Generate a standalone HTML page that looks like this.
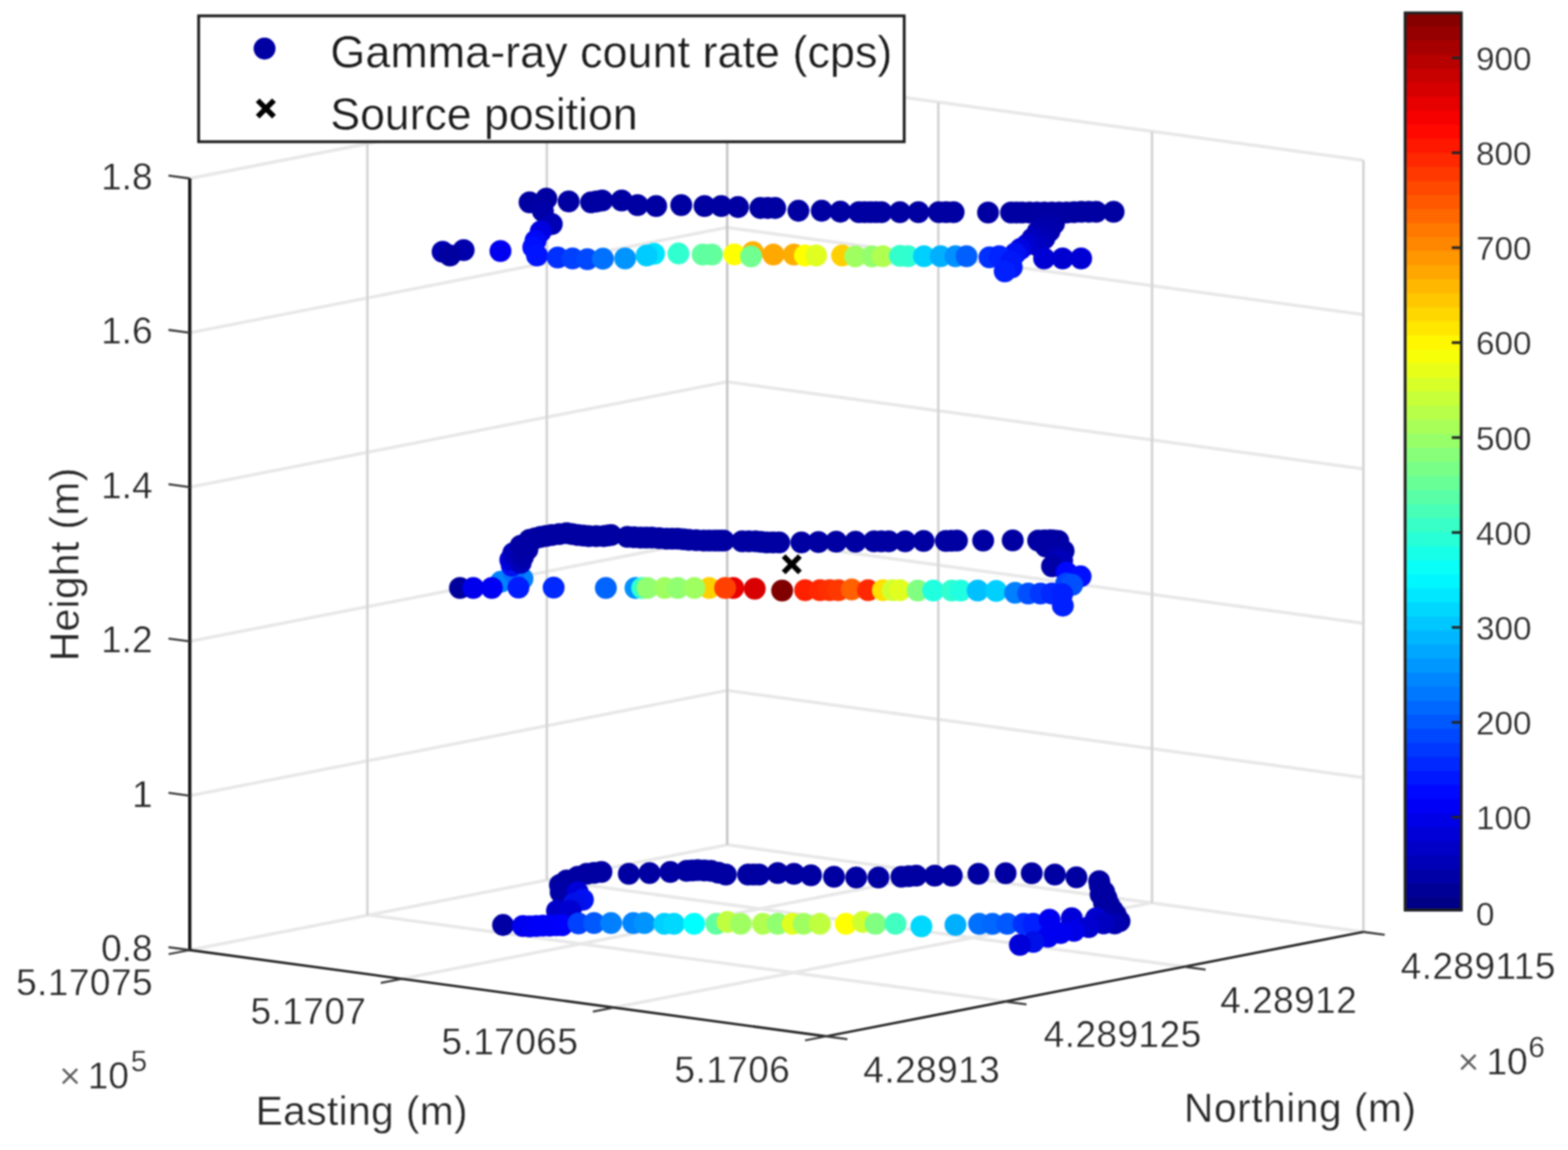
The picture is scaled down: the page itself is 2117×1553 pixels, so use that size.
<!DOCTYPE html>
<html lang="en">
<head>
<meta charset="utf-8">
<title>Gamma-ray count rate 3D scatter</title>
<style>
html,body{margin:0;padding:0;background:#fff;}
body{width:2117px;height:1553px;overflow:hidden;}
svg{display:block;filter:blur(1.3px);}
text{font-family:'Liberation Sans', sans-serif;stroke:#fff;stroke-width:0.45px;paint-order:fill stroke;}
</style>
</head>
<body>
<svg width="2117" height="1553" viewBox="0 0 2117 1553">
<rect x="-10" y="-10" width="2137" height="1573" fill="#ffffff"/>
<g id="grid" stroke-linecap="butt">
<line x1="256.2" y1="1283.0" x2="981.8" y2="1140.8" stroke="#e8e8e8" stroke-width="4.4" />
<line x1="981.8" y1="1140.8" x2="1840.8" y2="1258.5" stroke="#e8e8e8" stroke-width="4.4" />
<line x1="256.2" y1="1074.6" x2="981.8" y2="932.4" stroke="#e8e8e8" stroke-width="4.4" />
<line x1="981.8" y1="932.4" x2="1840.8" y2="1050.1" stroke="#e8e8e8" stroke-width="4.4" />
<line x1="256.2" y1="866.2" x2="981.8" y2="724.0" stroke="#e8e8e8" stroke-width="4.4" />
<line x1="981.8" y1="724.0" x2="1840.8" y2="841.7" stroke="#e8e8e8" stroke-width="4.4" />
<line x1="256.2" y1="657.8" x2="981.8" y2="515.6" stroke="#e8e8e8" stroke-width="4.4" />
<line x1="981.8" y1="515.6" x2="1840.8" y2="633.3" stroke="#e8e8e8" stroke-width="4.4" />
<line x1="256.2" y1="449.4" x2="981.8" y2="307.2" stroke="#e8e8e8" stroke-width="4.4" />
<line x1="981.8" y1="307.2" x2="1840.8" y2="424.9" stroke="#e8e8e8" stroke-width="4.4" />
<line x1="256.2" y1="241.0" x2="981.8" y2="98.8" stroke="#e8e8e8" stroke-width="4.4" />
<line x1="981.8" y1="98.8" x2="1840.8" y2="216.5" stroke="#e8e8e8" stroke-width="4.4" />
<line x1="542.6" y1="1321.8" x2="1268.1" y2="1180.0" stroke="#e8e8e8" stroke-width="4.4" />
<line x1="1357.2" y1="1352.5" x2="498.1" y2="1235.6" stroke="#e8e8e8" stroke-width="4.4" />
<line x1="829.0" y1="1360.7" x2="1554.5" y2="1219.3" stroke="#e8e8e8" stroke-width="4.4" />
<line x1="1599.0" y1="1305.5" x2="739.9" y2="1188.2" stroke="#e8e8e8" stroke-width="4.4" />
<line x1="496.0" y1="1236.0" x2="496.0" y2="194.0" stroke="#d4d4d4" stroke-width="3.4" />
<line x1="738.3" y1="1188.5" x2="738.3" y2="146.5" stroke="#d4d4d4" stroke-width="3.4" />
<line x1="981.8" y1="1140.8" x2="981.8" y2="98.8" stroke="#c6c6c6" stroke-width="3.4" />
<line x1="1266.8" y1="1179.9" x2="1266.8" y2="137.9" stroke="#d4d4d4" stroke-width="3.4" />
<line x1="1555.4" y1="1219.4" x2="1555.4" y2="177.4" stroke="#d4d4d4" stroke-width="3.4" />
<line x1="1840.8" y1="1258.5" x2="1840.8" y2="216.5" stroke="#d4d4d4" stroke-width="3.4" />
</g>
<g id="axes" stroke-linecap="butt">
<line x1="256.2" y1="241.0" x2="256.2" y2="1284.5" stroke="#141414" stroke-width="4.4" />
<line x1="256.2" y1="1283.0" x2="1115.4" y2="1399.5" stroke="#262626" stroke-width="3.3" />
<line x1="1115.4" y1="1399.5" x2="1840.8" y2="1258.5" stroke="#262626" stroke-width="3.3" />
<line x1="256.2" y1="1283.0" x2="227.5" y2="1279.1" stroke="#3a3a3a" stroke-width="2.8" />
<line x1="256.2" y1="1074.6" x2="227.5" y2="1070.7" stroke="#3a3a3a" stroke-width="2.8" />
<line x1="256.2" y1="866.2" x2="227.5" y2="862.3" stroke="#3a3a3a" stroke-width="2.8" />
<line x1="256.2" y1="657.8" x2="227.5" y2="653.9" stroke="#3a3a3a" stroke-width="2.8" />
<line x1="256.2" y1="449.4" x2="227.5" y2="445.5" stroke="#3a3a3a" stroke-width="2.8" />
<line x1="256.2" y1="241.0" x2="227.5" y2="237.1" stroke="#3a3a3a" stroke-width="2.8" />
<line x1="256.2" y1="1283.0" x2="227.7" y2="1288.5" stroke="#3a3a3a" stroke-width="2.8" />
<line x1="1115.4" y1="1399.5" x2="1144.1" y2="1403.4" stroke="#3a3a3a" stroke-width="2.8" />
<line x1="542.6" y1="1321.8" x2="514.1" y2="1327.4" stroke="#3a3a3a" stroke-width="2.8" />
<line x1="1357.2" y1="1352.5" x2="1385.9" y2="1356.4" stroke="#3a3a3a" stroke-width="2.8" />
<line x1="829.0" y1="1360.7" x2="800.5" y2="1366.2" stroke="#3a3a3a" stroke-width="2.8" />
<line x1="1599.0" y1="1305.5" x2="1627.7" y2="1309.4" stroke="#3a3a3a" stroke-width="2.8" />
<line x1="1115.4" y1="1399.5" x2="1086.9" y2="1405.0" stroke="#3a3a3a" stroke-width="2.8" />
<line x1="1840.8" y1="1258.5" x2="1869.5" y2="1262.4" stroke="#3a3a3a" stroke-width="2.8" />
</g>
<g id="dots">
<circle cx="715.0" cy="273.3" r="14.8" fill="#0000a2"/>
<circle cx="737.7" cy="268.3" r="14.8" fill="#0000a2"/>
<circle cx="767.8" cy="272.0" r="14.8" fill="#0000a2"/>
<circle cx="798.0" cy="273.3" r="14.8" fill="#0000a2"/>
<circle cx="805.5" cy="272.1" r="14.8" fill="#0000a2"/>
<circle cx="813.0" cy="270.8" r="14.8" fill="#0000a2"/>
<circle cx="839.4" cy="270.8" r="14.8" fill="#0000a2"/>
<circle cx="860.8" cy="277.0" r="14.8" fill="#0000a2"/>
<circle cx="885.9" cy="278.3" r="14.8" fill="#0000a2"/>
<circle cx="919.8" cy="277.0" r="14.8" fill="#0000a2"/>
<circle cx="951.2" cy="278.3" r="14.8" fill="#0000a2"/>
<circle cx="973.8" cy="278.3" r="14.8" fill="#0000a2"/>
<circle cx="996.4" cy="279.6" r="14.8" fill="#0000a2"/>
<circle cx="1026.6" cy="280.9" r="14.8" fill="#0000a2"/>
<circle cx="1036.6" cy="280.9" r="14.8" fill="#0000a2"/>
<circle cx="1046.6" cy="280.9" r="14.8" fill="#0000a2"/>
<circle cx="1078.0" cy="284.6" r="14.8" fill="#0000a2"/>
<circle cx="1109.4" cy="284.6" r="14.8" fill="#0000a2"/>
<circle cx="1134.6" cy="285.9" r="14.8" fill="#0000a2"/>
<circle cx="1159.7" cy="286.5" r="14.8" fill="#0000a2"/>
<circle cx="1167.3" cy="286.5" r="14.8" fill="#0000a2"/>
<circle cx="1175.0" cy="286.5" r="14.8" fill="#0000a2"/>
<circle cx="1182.5" cy="286.5" r="14.8" fill="#0000a2"/>
<circle cx="1190.0" cy="286.5" r="14.8" fill="#0000a2"/>
<circle cx="1215.0" cy="286.5" r="14.8" fill="#0000a2"/>
<circle cx="1240.0" cy="286.5" r="14.8" fill="#0000a2"/>
<circle cx="1267.5" cy="286.5" r="14.8" fill="#0000a2"/>
<circle cx="1277.5" cy="286.5" r="14.8" fill="#0000a2"/>
<circle cx="1287.5" cy="286.5" r="14.8" fill="#0000a2"/>
<circle cx="1334.0" cy="287.0" r="14.8" fill="#0000a2"/>
<circle cx="1365.0" cy="287.0" r="14.8" fill="#0000a2"/>
<circle cx="1372.5" cy="287.0" r="14.8" fill="#0000a2"/>
<circle cx="1380.0" cy="287.0" r="14.8" fill="#0000a2"/>
<circle cx="1390.0" cy="287.0" r="14.8" fill="#0000a2"/>
<circle cx="1400.0" cy="287.0" r="14.8" fill="#0000a2"/>
<circle cx="1410.0" cy="287.0" r="14.8" fill="#0000a2"/>
<circle cx="1420.0" cy="287.0" r="14.8" fill="#0000a2"/>
<circle cx="1430.0" cy="287.0" r="14.8" fill="#0000a2"/>
<circle cx="1440.0" cy="287.0" r="14.8" fill="#0000a2"/>
<circle cx="1450.0" cy="286.5" r="14.8" fill="#0000a2"/>
<circle cx="1460.0" cy="286.0" r="14.8" fill="#0000a2"/>
<circle cx="1470.0" cy="286.0" r="14.8" fill="#0000a2"/>
<circle cx="1480.0" cy="286.0" r="14.8" fill="#0000a2"/>
<circle cx="1503.5" cy="286.0" r="14.8" fill="#0000a2"/>
<circle cx="733.0" cy="285.0" r="14.8" fill="#0000a8"/>
<circle cx="745.0" cy="302.6" r="14.8" fill="#0000b4"/>
<circle cx="730.0" cy="312.6" r="14.8" fill="#0000e0"/>
<circle cx="723.0" cy="325.0" r="14.8" fill="#0008f4"/>
<circle cx="1423.0" cy="302.0" r="14.8" fill="#0000a6"/>
<circle cx="1408.0" cy="303.0" r="14.8" fill="#0000a8"/>
<circle cx="1417.0" cy="312.0" r="14.8" fill="#0000ac"/>
<circle cx="1401.0" cy="313.0" r="14.8" fill="#0000b0"/>
<circle cx="1410.0" cy="322.0" r="14.8" fill="#0000b4"/>
<circle cx="1394.0" cy="322.0" r="14.8" fill="#0000bc"/>
<circle cx="1402.0" cy="332.0" r="14.8" fill="#0000c0"/>
<circle cx="1387.0" cy="330.0" r="14.8" fill="#0000cc"/>
<circle cx="1409.7" cy="349.0" r="14.8" fill="#0000d4"/>
<circle cx="1434.7" cy="349.0" r="14.8" fill="#0000d0"/>
<circle cx="1459.7" cy="349.0" r="14.8" fill="#0000d4"/>
<circle cx="1378.0" cy="336.0" r="14.8" fill="#0004e0"/>
<circle cx="1371.0" cy="342.0" r="14.8" fill="#0010f0"/>
<circle cx="597.6" cy="340.0" r="14.8" fill="#0000b0"/>
<circle cx="626.0" cy="337.7" r="14.8" fill="#0000ac"/>
<circle cx="607.6" cy="345.0" r="14.8" fill="#0000a0"/>
<circle cx="675.7" cy="339.0" r="14.8" fill="#0000f0"/>
<circle cx="720.0" cy="334.0" r="14.8" fill="#0010ff"/>
<circle cx="725.0" cy="345.0" r="14.8" fill="#0014ff"/>
<circle cx="753.0" cy="347.7" r="14.8" fill="#0030ff"/>
<circle cx="773.0" cy="349.0" r="14.8" fill="#0040ff"/>
<circle cx="793.0" cy="350.0" r="14.8" fill="#0048ff"/>
<circle cx="814.0" cy="349.4" r="14.8" fill="#0070ff"/>
<circle cx="844.0" cy="349.0" r="14.8" fill="#0094ff"/>
<circle cx="883.0" cy="342.7" r="14.8" fill="#00e4ff"/>
<circle cx="873.0" cy="345.0" r="14.8" fill="#00ccff"/>
<circle cx="916.0" cy="342.4" r="14.8" fill="#30ffd0"/>
<circle cx="961.2" cy="343.7" r="14.8" fill="#64ff9c"/>
<circle cx="948.7" cy="343.7" r="14.8" fill="#60ffa0"/>
<circle cx="1016.5" cy="340.5" r="14.8" fill="#ffb000"/>
<circle cx="991.4" cy="343.5" r="14.8" fill="#ffff00"/>
<circle cx="1044.1" cy="343.7" r="14.8" fill="#ffa800"/>
<circle cx="1014.0" cy="346.2" r="14.8" fill="#70ff90"/>
<circle cx="1071.8" cy="343.7" r="14.8" fill="#ffac00"/>
<circle cx="1086.8" cy="345.0" r="14.8" fill="#ffff00"/>
<circle cx="1101.9" cy="345.0" r="14.8" fill="#e0ff20"/>
<circle cx="1137.0" cy="345.0" r="14.8" fill="#ffd000"/>
<circle cx="1154.7" cy="346.2" r="14.8" fill="#a0ff60"/>
<circle cx="1177.3" cy="346.2" r="14.8" fill="#94ff6c"/>
<circle cx="1192.0" cy="346.0" r="14.8" fill="#b0ff50"/>
<circle cx="1215.0" cy="345.5" r="14.8" fill="#34ffcc"/>
<circle cx="1226.0" cy="346.0" r="14.8" fill="#30ffd0"/>
<circle cx="1247.5" cy="346.0" r="14.8" fill="#00d0ff"/>
<circle cx="1270.0" cy="346.0" r="14.8" fill="#00b0ff"/>
<circle cx="1290.0" cy="346.0" r="14.8" fill="#0090ff"/>
<circle cx="1305.0" cy="346.0" r="14.8" fill="#0060ff"/>
<circle cx="1335.9" cy="347.5" r="14.8" fill="#0030ff"/>
<circle cx="1349.0" cy="346.0" r="14.8" fill="#0024ff"/>
<circle cx="1365.0" cy="353.0" r="14.8" fill="#0018f8"/>
<circle cx="1366.0" cy="361.0" r="14.8" fill="#0018f8"/>
<circle cx="1356.5" cy="366.5" r="14.8" fill="#0020ff"/>
<circle cx="715.0" cy="729.0" r="14.8" fill="#0000a2"/>
<circle cx="722.5" cy="727.0" r="14.8" fill="#0000a2"/>
<circle cx="730.0" cy="725.0" r="14.8" fill="#0000a2"/>
<circle cx="737.5" cy="723.8" r="14.8" fill="#0000a2"/>
<circle cx="745.0" cy="722.5" r="14.8" fill="#0000a2"/>
<circle cx="755.0" cy="721.2" r="14.8" fill="#0000a2"/>
<circle cx="765.0" cy="720.0" r="14.8" fill="#0000a2"/>
<circle cx="772.5" cy="721.2" r="14.8" fill="#0000a2"/>
<circle cx="780.0" cy="722.5" r="14.8" fill="#0000a2"/>
<circle cx="787.5" cy="723.2" r="14.8" fill="#0000a2"/>
<circle cx="795.0" cy="724.0" r="14.8" fill="#0000a2"/>
<circle cx="805.0" cy="724.0" r="14.8" fill="#0000a2"/>
<circle cx="815.0" cy="724.0" r="14.8" fill="#0000a2"/>
<circle cx="820.0" cy="723.2" r="14.8" fill="#0000a2"/>
<circle cx="825.0" cy="722.5" r="14.8" fill="#0000a2"/>
<circle cx="847.0" cy="725.0" r="14.8" fill="#0000a2"/>
<circle cx="856.0" cy="725.5" r="14.8" fill="#0000a2"/>
<circle cx="865.0" cy="726.0" r="14.8" fill="#0000a2"/>
<circle cx="872.5" cy="726.0" r="14.8" fill="#0000a2"/>
<circle cx="880.0" cy="726.0" r="14.8" fill="#0000a2"/>
<circle cx="890.0" cy="726.8" r="14.8" fill="#0000a2"/>
<circle cx="900.0" cy="727.5" r="14.8" fill="#0000a2"/>
<circle cx="907.5" cy="727.5" r="14.8" fill="#0000a2"/>
<circle cx="915.0" cy="727.5" r="14.8" fill="#0000a2"/>
<circle cx="922.5" cy="728.2" r="14.8" fill="#0000a2"/>
<circle cx="930.0" cy="729.0" r="14.8" fill="#0000a2"/>
<circle cx="940.0" cy="729.5" r="14.8" fill="#0000a2"/>
<circle cx="950.0" cy="730.0" r="14.8" fill="#0000a2"/>
<circle cx="957.5" cy="730.0" r="14.8" fill="#0000a2"/>
<circle cx="965.0" cy="730.0" r="14.8" fill="#0000a2"/>
<circle cx="971.0" cy="730.0" r="14.8" fill="#0000a2"/>
<circle cx="977.0" cy="730.0" r="14.8" fill="#0000a2"/>
<circle cx="1002.0" cy="731.0" r="14.8" fill="#0000a2"/>
<circle cx="1011.0" cy="731.0" r="14.8" fill="#0000a2"/>
<circle cx="1020.0" cy="731.0" r="14.8" fill="#0000a2"/>
<circle cx="1027.5" cy="731.8" r="14.8" fill="#0000a2"/>
<circle cx="1035.0" cy="732.5" r="14.8" fill="#0000a2"/>
<circle cx="1043.5" cy="732.5" r="14.8" fill="#0000a2"/>
<circle cx="1052.0" cy="732.5" r="14.8" fill="#0000a2"/>
<circle cx="1082.0" cy="732.5" r="14.8" fill="#0000a2"/>
<circle cx="1105.0" cy="732.0" r="14.8" fill="#0000a2"/>
<circle cx="1129.0" cy="731.5" r="14.8" fill="#0000a2"/>
<circle cx="1155.0" cy="731.5" r="14.8" fill="#0000a2"/>
<circle cx="1180.0" cy="731.0" r="14.8" fill="#0000a2"/>
<circle cx="1190.0" cy="731.0" r="14.8" fill="#0000a2"/>
<circle cx="1200.0" cy="731.0" r="14.8" fill="#0000a2"/>
<circle cx="1222.0" cy="731.0" r="14.8" fill="#0000a2"/>
<circle cx="1247.0" cy="730.5" r="14.8" fill="#0000a2"/>
<circle cx="1277.0" cy="730.5" r="14.8" fill="#0000a2"/>
<circle cx="1284.5" cy="730.2" r="14.8" fill="#0000a2"/>
<circle cx="1292.0" cy="730.0" r="14.8" fill="#0000a2"/>
<circle cx="1327.4" cy="730.0" r="14.8" fill="#0000a2"/>
<circle cx="1367.3" cy="729.8" r="14.8" fill="#0000a2"/>
<circle cx="1401.7" cy="730.0" r="14.8" fill="#0000a2"/>
<circle cx="1410.1" cy="729.8" r="14.8" fill="#0000a2"/>
<circle cx="1418.4" cy="729.5" r="14.8" fill="#0000a2"/>
<circle cx="1423.6" cy="730.0" r="14.8" fill="#0000a2"/>
<circle cx="1428.8" cy="730.5" r="14.8" fill="#0000a2"/>
<circle cx="676.3" cy="785.6" r="14.8" fill="#0084ff"/>
<circle cx="705.4" cy="781.5" r="14.8" fill="#0080ff"/>
<circle cx="694.0" cy="774.2" r="14.8" fill="#0070ff"/>
<circle cx="691.0" cy="764.0" r="14.8" fill="#0010f0"/>
<circle cx="689.0" cy="756.0" r="14.8" fill="#0000d8"/>
<circle cx="703.0" cy="760.0" r="14.8" fill="#0000b8"/>
<circle cx="693.0" cy="747.0" r="14.8" fill="#0000b8"/>
<circle cx="706.0" cy="752.0" r="14.8" fill="#0000a8"/>
<circle cx="712.0" cy="742.0" r="14.8" fill="#0000a6"/>
<circle cx="703.0" cy="737.0" r="14.8" fill="#0000a4"/>
<circle cx="1412.0" cy="738.0" r="14.8" fill="#0000a4"/>
<circle cx="1436.0" cy="744.0" r="14.8" fill="#0000a8"/>
<circle cx="1424.0" cy="745.0" r="14.8" fill="#0000a6"/>
<circle cx="1428.0" cy="753.0" r="14.8" fill="#0000b0"/>
<circle cx="1434.0" cy="757.0" r="14.8" fill="#0000b8"/>
<circle cx="1420.4" cy="764.8" r="14.8" fill="#0000a8"/>
<circle cx="1440.2" cy="773.2" r="14.8" fill="#0008ff"/>
<circle cx="1458.9" cy="778.4" r="14.8" fill="#0010ff"/>
<circle cx="1439.5" cy="788.0" r="14.8" fill="#0044ff"/>
<circle cx="1447.5" cy="789.8" r="14.8" fill="#0050ff"/>
<circle cx="621.0" cy="794.0" r="14.8" fill="#00009c"/>
<circle cx="639.0" cy="794.0" r="14.8" fill="#0000ec"/>
<circle cx="664.0" cy="794.0" r="14.8" fill="#0000f4"/>
<circle cx="700.0" cy="793.5" r="14.8" fill="#001cff"/>
<circle cx="747.5" cy="793.5" r="14.8" fill="#0028ff"/>
<circle cx="818.0" cy="794.0" r="14.8" fill="#0064ff"/>
<circle cx="858.0" cy="794.0" r="14.8" fill="#0090ff"/>
<circle cx="867.0" cy="794.0" r="14.8" fill="#30ffd0"/>
<circle cx="874.0" cy="794.0" r="14.8" fill="#90ff70"/>
<circle cx="897.5" cy="794.0" r="14.8" fill="#a0ff60"/>
<circle cx="915.0" cy="794.0" r="14.8" fill="#90ff70"/>
<circle cx="957.5" cy="794.0" r="14.8" fill="#ffd000"/>
<circle cx="937.5" cy="794.0" r="14.8" fill="#a0ff60"/>
<circle cx="990.0" cy="794.0" r="14.8" fill="#e80000"/>
<circle cx="979.0" cy="794.0" r="14.8" fill="#ff4000"/>
<circle cx="1019.0" cy="795.0" r="14.8" fill="#d80000"/>
<circle cx="1087.0" cy="797.0" r="14.8" fill="#ff2000"/>
<circle cx="1107.0" cy="797.0" r="14.8" fill="#ff2800"/>
<circle cx="1120.0" cy="797.0" r="14.8" fill="#ff3000"/>
<circle cx="1132.0" cy="797.0" r="14.8" fill="#ff3800"/>
<circle cx="1150.0" cy="796.0" r="14.8" fill="#ff6000"/>
<circle cx="1172.0" cy="797.0" r="14.8" fill="#ff2800"/>
<circle cx="1192.0" cy="797.0" r="14.8" fill="#ffe000"/>
<circle cx="1205.0" cy="797.0" r="14.8" fill="#d0ff30"/>
<circle cx="1215.0" cy="797.0" r="14.8" fill="#e0ff20"/>
<circle cx="1239.0" cy="797.5" r="14.8" fill="#80ff80"/>
<circle cx="1260.0" cy="797.5" r="14.8" fill="#20ffe0"/>
<circle cx="1285.0" cy="797.5" r="14.8" fill="#30ffd0"/>
<circle cx="1297.0" cy="797.5" r="14.8" fill="#20ffe0"/>
<circle cx="1320.0" cy="797.5" r="14.8" fill="#00c0ff"/>
<circle cx="1345.0" cy="798.0" r="14.8" fill="#00d0ff"/>
<circle cx="1370.5" cy="800.5" r="14.8" fill="#0080ff"/>
<circle cx="1388.2" cy="801.5" r="14.8" fill="#0050ff"/>
<circle cx="1404.8" cy="801.5" r="14.8" fill="#0038ff"/>
<circle cx="1420.0" cy="801.5" r="14.8" fill="#0028ff"/>
<circle cx="1434.0" cy="802.3" r="14.8" fill="#0020ff"/>
<circle cx="1435.0" cy="817.9" r="14.8" fill="#0020ff"/>
<circle cx="1056.0" cy="797.5" r="14.8" fill="#800000"/>
<circle cx="792.0" cy="1180.0" r="14.8" fill="#0000a2"/>
<circle cx="802.0" cy="1178.8" r="14.8" fill="#0000a2"/>
<circle cx="812.0" cy="1177.5" r="14.8" fill="#0000a2"/>
<circle cx="849.0" cy="1180.0" r="14.8" fill="#0000a2"/>
<circle cx="877.0" cy="1179.0" r="14.8" fill="#0000a2"/>
<circle cx="905.0" cy="1177.5" r="14.8" fill="#0000a2"/>
<circle cx="927.0" cy="1176.0" r="14.8" fill="#0000a2"/>
<circle cx="934.5" cy="1175.5" r="14.8" fill="#0000a2"/>
<circle cx="942.0" cy="1175.0" r="14.8" fill="#0000a2"/>
<circle cx="951.0" cy="1175.5" r="14.8" fill="#0000a2"/>
<circle cx="960.0" cy="1176.0" r="14.8" fill="#0000a2"/>
<circle cx="970.0" cy="1178.5" r="14.8" fill="#0000a2"/>
<circle cx="980.0" cy="1181.0" r="14.8" fill="#0000a2"/>
<circle cx="1010.0" cy="1181.0" r="14.8" fill="#0000a2"/>
<circle cx="1017.5" cy="1181.0" r="14.8" fill="#0000a2"/>
<circle cx="1025.0" cy="1181.0" r="14.8" fill="#0000a2"/>
<circle cx="1050.0" cy="1179.0" r="14.8" fill="#0000a2"/>
<circle cx="1072.0" cy="1180.0" r="14.8" fill="#0000a2"/>
<circle cx="1095.0" cy="1182.0" r="14.8" fill="#0000a2"/>
<circle cx="1126.0" cy="1184.0" r="14.8" fill="#0000a2"/>
<circle cx="1156.0" cy="1185.0" r="14.8" fill="#0000a2"/>
<circle cx="1186.0" cy="1185.0" r="14.8" fill="#0000a2"/>
<circle cx="1217.0" cy="1184.0" r="14.8" fill="#0000a2"/>
<circle cx="1227.0" cy="1183.2" r="14.8" fill="#0000a2"/>
<circle cx="1237.0" cy="1182.5" r="14.8" fill="#0000a2"/>
<circle cx="1262.0" cy="1182.5" r="14.8" fill="#0000a2"/>
<circle cx="1285.0" cy="1182.5" r="14.8" fill="#0000a2"/>
<circle cx="1321.0" cy="1180.0" r="14.8" fill="#0000a2"/>
<circle cx="1357.7" cy="1179.3" r="14.8" fill="#0000a2"/>
<circle cx="1393.0" cy="1179.3" r="14.8" fill="#0000a2"/>
<circle cx="1424.2" cy="1181.0" r="14.8" fill="#0000a2"/>
<circle cx="1453.3" cy="1184.7" r="14.8" fill="#0000a2"/>
<circle cx="1484.0" cy="1190.0" r="14.8" fill="#0000a2"/>
<circle cx="780.0" cy="1184.0" r="14.8" fill="#0000a2"/>
<circle cx="765.0" cy="1189.0" r="14.8" fill="#0000a2"/>
<circle cx="756.0" cy="1195.0" r="14.8" fill="#0000a2"/>
<circle cx="757.0" cy="1205.0" r="14.8" fill="#0000a8"/>
<circle cx="780.0" cy="1205.0" r="14.8" fill="#0000d8"/>
<circle cx="787.0" cy="1215.0" r="14.8" fill="#0010f0"/>
<circle cx="775.0" cy="1220.0" r="14.8" fill="#0010e8"/>
<circle cx="752.0" cy="1230.0" r="14.8" fill="#0000c8"/>
<circle cx="770.0" cy="1230.0" r="14.8" fill="#0000d0"/>
<circle cx="1485.0" cy="1196.0" r="14.8" fill="#0000a2"/>
<circle cx="1490.7" cy="1204.4" r="14.8" fill="#0000a2"/>
<circle cx="1486.0" cy="1208.0" r="14.8" fill="#0000a2"/>
<circle cx="1494.0" cy="1213.0" r="14.8" fill="#0000a2"/>
<circle cx="1490.5" cy="1219.0" r="14.8" fill="#0000a2"/>
<circle cx="1497.5" cy="1222.0" r="14.8" fill="#0000a2"/>
<circle cx="1502.0" cy="1229.0" r="14.8" fill="#0000a2"/>
<circle cx="1506.3" cy="1235.0" r="14.8" fill="#0000a2"/>
<circle cx="1511.5" cy="1244.0" r="14.8" fill="#0000a2"/>
<circle cx="679.2" cy="1249.1" r="14.8" fill="#0000a4"/>
<circle cx="706.0" cy="1250.5" r="14.8" fill="#0000f0"/>
<circle cx="715.0" cy="1251.0" r="14.8" fill="#0000f0"/>
<circle cx="724.0" cy="1250.5" r="14.8" fill="#0000f4"/>
<circle cx="733.0" cy="1250.0" r="14.8" fill="#0000f8"/>
<circle cx="742.0" cy="1250.0" r="14.8" fill="#0000f8"/>
<circle cx="751.0" cy="1249.5" r="14.8" fill="#0000f8"/>
<circle cx="759.0" cy="1249.5" r="14.8" fill="#0000fc"/>
<circle cx="781.0" cy="1247.0" r="14.8" fill="#0040ff"/>
<circle cx="802.0" cy="1246.5" r="14.8" fill="#0058ff"/>
<circle cx="825.0" cy="1246.5" r="14.8" fill="#0080ff"/>
<circle cx="855.0" cy="1246.5" r="14.8" fill="#0084ff"/>
<circle cx="870.0" cy="1246.5" r="14.8" fill="#0094ff"/>
<circle cx="897.0" cy="1247.5" r="14.8" fill="#00d0ff"/>
<circle cx="910.0" cy="1247.5" r="14.8" fill="#00d8ff"/>
<circle cx="937.0" cy="1247.5" r="14.8" fill="#00ffff"/>
<circle cx="967.0" cy="1247.5" r="14.8" fill="#60ffa0"/>
<circle cx="982.0" cy="1245.0" r="14.8" fill="#c0ff40"/>
<circle cx="1000.0" cy="1247.5" r="14.8" fill="#a0ff60"/>
<circle cx="1030.0" cy="1247.5" r="14.8" fill="#b0ff50"/>
<circle cx="1050.0" cy="1247.5" r="14.8" fill="#90ff70"/>
<circle cx="1070.0" cy="1247.5" r="14.8" fill="#e0ff20"/>
<circle cx="1085.0" cy="1247.5" r="14.8" fill="#a0ff60"/>
<circle cx="1107.0" cy="1247.5" r="14.8" fill="#c0ff40"/>
<circle cx="1142.0" cy="1247.5" r="14.8" fill="#ffff00"/>
<circle cx="1165.0" cy="1245.0" r="14.8" fill="#d0ff30"/>
<circle cx="1182.0" cy="1247.5" r="14.8" fill="#80ff80"/>
<circle cx="1209.0" cy="1247.5" r="14.8" fill="#40ffc0"/>
<circle cx="1244.0" cy="1251.0" r="14.8" fill="#00d8ff"/>
<circle cx="1290.0" cy="1249.0" r="14.8" fill="#00b0ff"/>
<circle cx="1322.0" cy="1247.5" r="14.8" fill="#0070ff"/>
<circle cx="1340.0" cy="1247.5" r="14.8" fill="#0068ff"/>
<circle cx="1360.0" cy="1247.5" r="14.8" fill="#0058ff"/>
<circle cx="1382.0" cy="1247.5" r="14.8" fill="#0030ff"/>
<circle cx="1395.0" cy="1247.5" r="14.8" fill="#0020ff"/>
<circle cx="1417.0" cy="1242.0" r="14.8" fill="#0000f0"/>
<circle cx="1447.0" cy="1240.0" r="14.8" fill="#0000d8"/>
<circle cx="1480.0" cy="1240.0" r="14.8" fill="#0000d0"/>
<circle cx="1505.0" cy="1247.0" r="14.8" fill="#0000b0"/>
<circle cx="1490.0" cy="1247.0" r="14.8" fill="#0000c0"/>
<circle cx="1470.0" cy="1252.0" r="14.8" fill="#0000d0"/>
<circle cx="1450.0" cy="1257.0" r="14.8" fill="#0000e8"/>
<circle cx="1432.0" cy="1260.0" r="14.8" fill="#0000f0"/>
<circle cx="1415.0" cy="1265.0" r="14.8" fill="#0000f0"/>
<circle cx="1395.0" cy="1272.0" r="14.8" fill="#0010e8"/>
<circle cx="1377.0" cy="1276.0" r="14.8" fill="#0000d8"/>
</g>
<path d="M1058.0 751.0L1080.0 773.0M1058.0 773.0L1080.0 751.0" stroke="#000" stroke-width="7.2" fill="none" stroke-linecap="butt"/>
<g id="colorbar">
<rect x="1896.2" y="1211.33" width="77.7" height="19.57" fill="#000087"/>
<rect x="1896.2" y="1192.35" width="77.7" height="19.57" fill="#000097"/>
<rect x="1896.2" y="1173.38" width="77.7" height="19.57" fill="#0000a7"/>
<rect x="1896.2" y="1154.41" width="77.7" height="19.57" fill="#0000b7"/>
<rect x="1896.2" y="1135.43" width="77.7" height="19.57" fill="#0000c7"/>
<rect x="1896.2" y="1116.46" width="77.7" height="19.57" fill="#0000d7"/>
<rect x="1896.2" y="1097.49" width="77.7" height="19.57" fill="#0000e7"/>
<rect x="1896.2" y="1078.51" width="77.7" height="19.57" fill="#0000f7"/>
<rect x="1896.2" y="1059.54" width="77.7" height="19.57" fill="#0008ff"/>
<rect x="1896.2" y="1040.57" width="77.7" height="19.57" fill="#0018ff"/>
<rect x="1896.2" y="1021.59" width="77.7" height="19.57" fill="#0028ff"/>
<rect x="1896.2" y="1002.62" width="77.7" height="19.57" fill="#0038ff"/>
<rect x="1896.2" y="983.65" width="77.7" height="19.57" fill="#0048ff"/>
<rect x="1896.2" y="964.67" width="77.7" height="19.57" fill="#0058ff"/>
<rect x="1896.2" y="945.70" width="77.7" height="19.57" fill="#0068ff"/>
<rect x="1896.2" y="926.72" width="77.7" height="19.57" fill="#0078ff"/>
<rect x="1896.2" y="907.75" width="77.7" height="19.57" fill="#0087ff"/>
<rect x="1896.2" y="888.78" width="77.7" height="19.57" fill="#0097ff"/>
<rect x="1896.2" y="869.80" width="77.7" height="19.57" fill="#00a7ff"/>
<rect x="1896.2" y="850.83" width="77.7" height="19.57" fill="#00b7ff"/>
<rect x="1896.2" y="831.86" width="77.7" height="19.57" fill="#00c7ff"/>
<rect x="1896.2" y="812.88" width="77.7" height="19.57" fill="#00d7ff"/>
<rect x="1896.2" y="793.91" width="77.7" height="19.57" fill="#00e7ff"/>
<rect x="1896.2" y="774.94" width="77.7" height="19.57" fill="#00f7ff"/>
<rect x="1896.2" y="755.96" width="77.7" height="19.57" fill="#08fff7"/>
<rect x="1896.2" y="736.99" width="77.7" height="19.57" fill="#18ffe7"/>
<rect x="1896.2" y="718.02" width="77.7" height="19.57" fill="#28ffd7"/>
<rect x="1896.2" y="699.04" width="77.7" height="19.57" fill="#38ffc7"/>
<rect x="1896.2" y="680.07" width="77.7" height="19.57" fill="#48ffb7"/>
<rect x="1896.2" y="661.10" width="77.7" height="19.57" fill="#58ffa7"/>
<rect x="1896.2" y="642.12" width="77.7" height="19.57" fill="#68ff97"/>
<rect x="1896.2" y="623.15" width="77.7" height="19.57" fill="#78ff87"/>
<rect x="1896.2" y="604.18" width="77.7" height="19.57" fill="#87ff78"/>
<rect x="1896.2" y="585.20" width="77.7" height="19.57" fill="#97ff68"/>
<rect x="1896.2" y="566.23" width="77.7" height="19.57" fill="#a7ff58"/>
<rect x="1896.2" y="547.26" width="77.7" height="19.57" fill="#b7ff48"/>
<rect x="1896.2" y="528.28" width="77.7" height="19.57" fill="#c7ff38"/>
<rect x="1896.2" y="509.31" width="77.7" height="19.57" fill="#d7ff28"/>
<rect x="1896.2" y="490.34" width="77.7" height="19.57" fill="#e7ff18"/>
<rect x="1896.2" y="471.36" width="77.7" height="19.57" fill="#f7ff08"/>
<rect x="1896.2" y="452.39" width="77.7" height="19.57" fill="#fff700"/>
<rect x="1896.2" y="433.42" width="77.7" height="19.57" fill="#ffe700"/>
<rect x="1896.2" y="414.44" width="77.7" height="19.57" fill="#ffd700"/>
<rect x="1896.2" y="395.47" width="77.7" height="19.57" fill="#ffc700"/>
<rect x="1896.2" y="376.50" width="77.7" height="19.57" fill="#ffb700"/>
<rect x="1896.2" y="357.52" width="77.7" height="19.57" fill="#ffa700"/>
<rect x="1896.2" y="338.55" width="77.7" height="19.57" fill="#ff9700"/>
<rect x="1896.2" y="319.58" width="77.7" height="19.57" fill="#ff8700"/>
<rect x="1896.2" y="300.60" width="77.7" height="19.57" fill="#ff7800"/>
<rect x="1896.2" y="281.63" width="77.7" height="19.57" fill="#ff6800"/>
<rect x="1896.2" y="262.65" width="77.7" height="19.57" fill="#ff5800"/>
<rect x="1896.2" y="243.68" width="77.7" height="19.57" fill="#ff4800"/>
<rect x="1896.2" y="224.71" width="77.7" height="19.57" fill="#ff3800"/>
<rect x="1896.2" y="205.73" width="77.7" height="19.57" fill="#ff2800"/>
<rect x="1896.2" y="186.76" width="77.7" height="19.57" fill="#ff1800"/>
<rect x="1896.2" y="167.79" width="77.7" height="19.57" fill="#ff0800"/>
<rect x="1896.2" y="148.81" width="77.7" height="19.57" fill="#f70000"/>
<rect x="1896.2" y="129.84" width="77.7" height="19.57" fill="#e70000"/>
<rect x="1896.2" y="110.87" width="77.7" height="19.57" fill="#d70000"/>
<rect x="1896.2" y="91.89" width="77.7" height="19.57" fill="#c70000"/>
<rect x="1896.2" y="72.92" width="77.7" height="19.57" fill="#b70000"/>
<rect x="1896.2" y="53.95" width="77.7" height="19.57" fill="#a70000"/>
<rect x="1896.2" y="34.97" width="77.7" height="19.57" fill="#970000"/>
<rect x="1896.2" y="16.00" width="77.7" height="19.57" fill="#870000"/>
<rect x="1897.1" y="17.4" width="75.9" height="1211.5" fill="none" stroke="#202020" stroke-width="3.8"/>
<line x1="1960.1" y1="1103.7" x2="1971.1" y2="1103.7" stroke="#262626" stroke-width="3.6"/>
<line x1="1960.1" y1="975.5" x2="1971.1" y2="975.5" stroke="#262626" stroke-width="3.6"/>
<line x1="1960.1" y1="847.3" x2="1971.1" y2="847.3" stroke="#262626" stroke-width="3.6"/>
<line x1="1960.1" y1="719.1" x2="1971.1" y2="719.1" stroke="#262626" stroke-width="3.6"/>
<line x1="1960.1" y1="590.9" x2="1971.1" y2="590.9" stroke="#262626" stroke-width="3.6"/>
<line x1="1960.1" y1="462.7" x2="1971.1" y2="462.7" stroke="#262626" stroke-width="3.6"/>
<line x1="1960.1" y1="334.5" x2="1971.1" y2="334.5" stroke="#262626" stroke-width="3.6"/>
<line x1="1960.1" y1="206.3" x2="1971.1" y2="206.3" stroke="#262626" stroke-width="3.6"/>
<line x1="1960.1" y1="78.1" x2="1971.1" y2="78.1" stroke="#262626" stroke-width="3.6"/>
</g>
<g id="legend">
<rect x="268.2" y="21.4" width="952.6" height="170.0" fill="#fff" stroke="#1e1e1e" stroke-width="3.8"/>
<circle cx="357.2" cy="65.6" r="14.8" fill="#0000a3"/>
<path d="M347.9 135.5L369.9 157.5M347.9 157.5L369.9 135.5" stroke="#000" stroke-width="7.2" fill="none" stroke-linecap="butt"/>
</g>
<g id="labels" font-family="'Liberation Sans', sans-serif">
<text x="446.0" y="90.6" font-size="60.7" text-anchor="start" fill="#1a1a1a" >Gamma-ray count rate (cps)</text>
<text x="446.0" y="175.3" font-size="60.2" text-anchor="start" fill="#1a1a1a" >Source position</text>
<text x="206.0" y="1298.0" font-size="50" text-anchor="end" fill="#262626" >0.8</text>
<text x="206.0" y="1089.6" font-size="50" text-anchor="end" fill="#262626" >1</text>
<text x="206.0" y="881.2" font-size="50" text-anchor="end" fill="#262626" >1.2</text>
<text x="206.0" y="672.8" font-size="50" text-anchor="end" fill="#262626" >1.4</text>
<text x="206.0" y="464.4" font-size="50" text-anchor="end" fill="#262626" >1.6</text>
<text x="206.0" y="256.0" font-size="50" text-anchor="end" fill="#262626" >1.8</text>
<text x="206.6" y="1344.4" font-size="50" text-anchor="end" fill="#262626"  letter-spacing="0.6">5.17075</text>
<text x="338.2" y="1382.8" font-size="50" text-anchor="start" fill="#262626"  letter-spacing="0.6">5.1707</text>
<text x="596.0" y="1423.5" font-size="50" text-anchor="start" fill="#262626"  letter-spacing="0.6">5.17065</text>
<text x="910.5" y="1462.3" font-size="50" text-anchor="start" fill="#262626"  letter-spacing="0.6">5.1706</text>
<text x="1165.5" y="1462.3" font-size="50" text-anchor="start" fill="#262626"  letter-spacing="0.6">4.28913</text>
<text x="1409.0" y="1414.0" font-size="50" text-anchor="start" fill="#262626"  letter-spacing="0.6">4.289125</text>
<text x="1647.5" y="1367.7" font-size="50" text-anchor="start" fill="#262626"  letter-spacing="0.6">4.28912</text>
<text x="1891.0" y="1321.8" font-size="50" text-anchor="start" fill="#262626"  letter-spacing="0.6">4.289115</text>
<text x="80.0" y="1470.0" font-size="50" text-anchor="start" fill="#5a5a5a" >×</text>
<text x="118.5" y="1470.0" font-size="50" text-anchor="start" fill="#262626" >10</text>
<text x="176.5" y="1446.8" font-size="40" text-anchor="start" fill="#262626" >5</text>
<text x="1968.0" y="1451.0" font-size="50" text-anchor="start" fill="#5a5a5a" >×</text>
<text x="2007.0" y="1451.0" font-size="50" text-anchor="start" fill="#262626" >10</text>
<text x="2063.5" y="1428.0" font-size="40" text-anchor="start" fill="#262626" >6</text>
<text x="345.2" y="1519.3" font-size="55" text-anchor="start" fill="#262626"  letter-spacing="0.5">Easting (m)</text>
<text x="1598.5" y="1514.7" font-size="55" text-anchor="start" fill="#262626"  letter-spacing="0.7">Northing (m)</text>
<text transform="translate(106.1 893.0) rotate(-90)" font-size="55" letter-spacing="0.5" fill="#262626">Height (m)</text>
<text x="1992.8" y="1249.7" font-size="45" text-anchor="start" fill="#262626" >0</text>
<text x="1992.8" y="1120.3" font-size="45" text-anchor="start" fill="#262626" >100</text>
<text x="1992.8" y="992.1" font-size="45" text-anchor="start" fill="#262626" >200</text>
<text x="1992.8" y="863.9" font-size="45" text-anchor="start" fill="#262626" >300</text>
<text x="1992.8" y="735.7" font-size="45" text-anchor="start" fill="#262626" >400</text>
<text x="1992.8" y="607.5" font-size="45" text-anchor="start" fill="#262626" >500</text>
<text x="1992.8" y="479.3" font-size="45" text-anchor="start" fill="#262626" >600</text>
<text x="1992.8" y="351.1" font-size="45" text-anchor="start" fill="#262626" >700</text>
<text x="1992.8" y="222.9" font-size="45" text-anchor="start" fill="#262626" >800</text>
<text x="1992.8" y="94.7" font-size="45" text-anchor="start" fill="#262626" >900</text>
</g>
</svg>
</body>
</html>
